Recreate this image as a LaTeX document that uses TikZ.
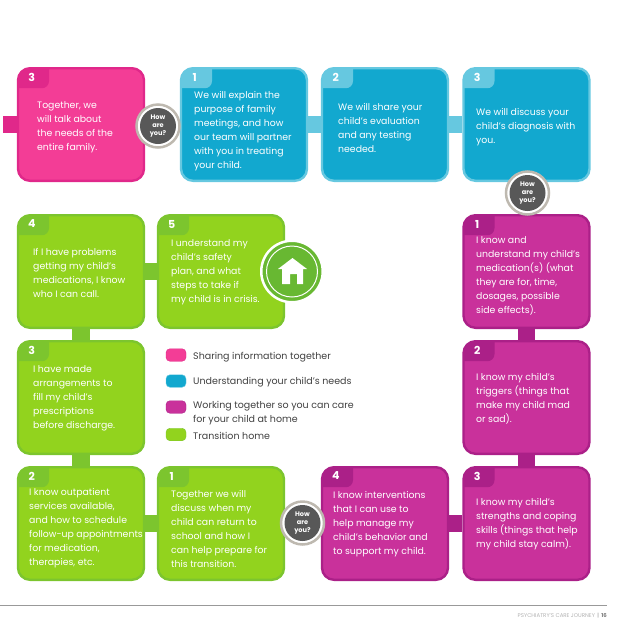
\documentclass[tikz,border=0pt]{standalone}
\usepackage{fontspec}
\setmainfont{Poppins}
\usetikzlibrary{positioning, backgrounds}
\definecolor{pinkfill}{RGB}{243, 61, 150}
\definecolor{pinkedge}{RGB}{224, 40, 138}
\definecolor{bluefill}{RGB}{18, 168, 207}
\definecolor{blueedge}{RGB}{102, 200, 224}
\definecolor{plumfill}{RGB}{201, 49, 155}
\definecolor{plumedge}{RGB}{171, 32, 136}
\definecolor{greenfill}{RGB}{146, 211, 30}
\definecolor{greenedge}{RGB}{124, 197, 46}
\definecolor{howdark}{RGB}{88, 88, 88}
\definecolor{howring}{RGB}{190, 185, 176}
\definecolor{homegreen}{RGB}{104, 184, 50}
\tikzset{
    card/.style n args={2}{draw=#2, fill=#1, line width=2.4pt, rounded corners=12pt,
        minimum width=126pt, minimum height=112.6pt, inner sep=0pt,
        path picture={\fill[#2, rounded corners=7pt] ([xshift=-20pt, yshift=20pt]path picture bounding box.north west) rectangle ++(51pt, -40pt);}},
    pinkcard/.style={card={pinkfill}{pinkedge}},
    bluecard/.style={card={bluefill}{blueedge}},
    plumcard/.style={card={plumfill}{plumedge}},
    greencard/.style={card={greenfill}{greenedge}},
    cardtext/.style={anchor=west, align=left, inner sep=0pt, yshift=-0.6pt, text=white, font=\fontsize{9.35}{14}\selectfont},
    cardnum/.style={inner sep=0pt, text=white, font=\fontsize{11}{12}\selectfont\bfseries},
    tab/.style={line width=17.5pt},
    swatch/.style={fill=#1, rounded corners=4pt, minimum width=20pt, minimum height=12.5pt, inner sep=0pt},
    legendtext/.style={anchor=west, align=left, inner sep=0pt, text=black!75, font=\fontsize{9.5}{14}\selectfont},
    howring/.style={circle, draw=howring, fill=white, line width=2.5pt, minimum size=43pt, inner sep=0pt},
    howbody/.style={circle, fill=howdark, minimum size=36pt, inner sep=0pt, align=center, text=white, font=\fontsize{6.6}{8}\selectfont\bfseries},
}

\begin{document}
\begin{tikzpicture}[x=1pt, y=-1pt]
    \useasboundingbox (0,0) rectangle (638,638);

    % top row
    \node[pinkcard] (sharethree) at (81,124.5) {};
    \node[bluecard] (needone) at (244,124.5) {};
    \node[bluecard] (needtwo) at (385,124.5) {};
    \node[bluecard] (needthree) at (526.5,124.5) {};
    % second row
    \node[greencard] (homefour) at (81,271.5) {};
    \node[greencard] (homefive) at (221,271.5) {};
    \node[plumcard] (careone) at (526.5,271.5) {};
    % third row
    \node[greencard] (homethree) at (81,397.5) {};
    \node[plumcard] (caretwo) at (526.5,397.5) {};
    % bottom row
    \node[greencard] (hometwo) at (81,523.5) {};
    \node[greencard] (homeone) at (221,523.5) {};
    \node[plumcard] (carefour) at (385,523.5) {};
    \node[plumcard] (carethree) at (526.5,523.5) {};

    \coordinate (pinkend) at (3,124.5);

    \begin{pgfonlayer}{background}
        \draw[tab, pinkedge] (sharethree) -- (pinkend);
        \draw[tab, blueedge] (needone) -- (needtwo);
        \draw[tab, blueedge] (needtwo) -- (needthree);
        \draw[tab, greenedge] (homefour) -- (homefive);
        \draw[tab, greenedge] (homefour) -- (homethree);
        \draw[tab, greenedge] (homethree) -- (hometwo);
        \draw[tab, greenedge] (hometwo) -- (homeone);
        \draw[tab, plumedge] (careone) -- (caretwo);
        \draw[tab, plumedge] (caretwo) -- (carethree);
        \draw[tab, plumedge] (carethree) -- (carefour);
    \end{pgfonlayer}

    % numbers
    \node[cardnum] at ([xshift=15pt, yshift=-10pt]sharethree.north west) {3};
    \node[cardnum] at ([xshift=15pt, yshift=-10pt]needone.north west) {1};
    \node[cardnum] at ([xshift=15pt, yshift=-10pt]needtwo.north west) {2};
    \node[cardnum] at ([xshift=15pt, yshift=-10pt]needthree.north west) {3};
    \node[cardnum] at ([xshift=15pt, yshift=-10pt]homefour.north west) {4};
    \node[cardnum] at ([xshift=15pt, yshift=-10pt]homefive.north west) {5};
    \node[cardnum] at ([xshift=15pt, yshift=-10pt]careone.north west) {1};
    \node[cardnum] at ([xshift=15pt, yshift=-10pt]homethree.north west) {3};
    \node[cardnum] at ([xshift=15pt, yshift=-10pt]caretwo.north west) {2};
    \node[cardnum] at ([xshift=15pt, yshift=-10pt]hometwo.north west) {2};
    \node[cardnum] at ([xshift=15pt, yshift=-10pt]homeone.north west) {1};
    \node[cardnum] at ([xshift=15pt, yshift=-10pt]carefour.north west) {4};
    \node[cardnum] at ([xshift=15pt, yshift=-10pt]carethree.north west) {3};

    % card texts
    \node[cardtext] at (37,127) {Together, we\\will talk about\\the needs of the\\entire family.};
    \node[cardtext] at (194,131) {We will explain the\\purpose of family\\meetings, and how\\our team will partner\\with you in treating\\your child.};
    \node[cardtext] at (338,127) {We will share your\\child's evaluation\\and any testing\\needed.};
    \node[cardtext] at (476,127) {We will discuss your\\child's diagnosis with\\you.};
    \node[cardtext] at (33,272.5) {If I have problems\\getting my child's\\medications, I know\\who I can call.};
    \node[cardtext] at (171,271.5) {I understand my\\child's safety\\plan, and what\\steps to take if\\my child is in crisis.};
    \node[cardtext] at (476,275.5) {I know and\\understand my child's\\medication(s) (what\\they are for, time,\\dosages, possible\\side effects).};
    \node[cardtext] at (33,397.5) {I have made\\arrangements to\\fill my child's\\prescriptions\\before discharge.};
    \node[cardtext] at (476,398.5) {I know my child's\\triggers (things that\\make my child mad\\or sad).};
    \node[cardtext] at (29,528) {I know outpatient\\services available,\\and how to schedule\\follow-up appointments\\for medication,\\therapies, etc.};
    \node[cardtext] at (171,528) {Together we will\\discuss when my\\child can return to\\school and how I\\can help prepare for\\this transition.};
    \node[cardtext] at (333,523.5) {I know interventions\\that I can use to\\help manage my\\child's behavior and\\to support my child.};
    \node[cardtext] at (476,523.5) {I know my child's\\strengths and coping\\skills (things that help\\my child stay calm).};

    % how are you
    \node[howring] (howleft) at (158,126) {};
    \node[howbody] at (howleft) {How\\are\\you?};
    \node[howring] (howright) at (527.5,193) {};
    \node[howbody] at (howright) {How\\are\\you?};
    \node[howring] (howbottom) at (302.5,523) {};
    \node[howbody] at (howbottom) {How\\are\\you?};

    % home badge
    \node[circle, fill=homegreen, draw=white, line width=2.5pt, minimum size=61.5pt, inner sep=0pt] (homeround) at (292,271.5) {};
    \node[circle, draw=white, line width=1pt, minimum size=51pt, inner sep=0pt] at (homeround) {};
    \fill[white] (292.5,258) -- (307,269) -- (303,269) -- (303,284) -- (297,284) -- (297,274) -- (290,274) -- (290,284) -- (282,284) -- (282,269) -- (278,269) -- cycle;

    % legend
    \node[swatch=pinkfill, draw=pinkedge] (keypink) at (176,355) {};
    \node[swatch=bluefill, draw=blueedge] (keyblue) at (176,381) {};
    \node[swatch=plumfill, draw=plumedge] (keyplum) at (176,407) {};
    \node[swatch=greenfill, draw=greenedge] (keygreen) at (176,434.5) {};
    \node[legendtext] at (193,357) {Sharing information together};
    \node[legendtext] at (193,382) {Understanding your child's needs};
    \node[legendtext] at (193,413) {Working together so you can care\\for your child at home};
    \node[legendtext] at (193,435.5) {Transition home};

    % footer
    \coordinate (rulea) at (0,605);
    \coordinate (ruleb) at (607,605);
    \draw[black!40, line width=0.7pt] (rulea) -- (ruleb);
    \node[anchor=east, inner sep=0pt, text=black!30, font=\fontsize{5.45}{7}\selectfont] at (607,616) {PSYCHIATRY'S CARE JOURNEY \textcolor{black!50}{\,|\, \textbf{16}}};
\end{tikzpicture}
\end{document}
